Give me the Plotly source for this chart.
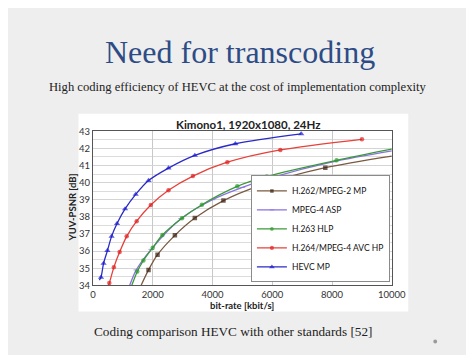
import plotly.graph_objects as go

# ---- data ----
hevc_x = [215, 269, 355, 484, 624, 806, 1075, 1430, 1860, 2527, 3409, 4763, 6968]
hevc_y = [34.3, 34.47, 35.28, 36.03, 36.86, 37.61, 38.46, 39.31, 40.12, 40.85, 41.59, 42.27, 42.85]
hevc_m = [0, 1, 1, 1, 1, 1, 1, 1, 1, 1, 1, 1, 1]

avc_x = [500, 548, 699, 892, 1129, 1462, 1935, 2527, 3344, 4495, 6269, 9000]
avc_y = [33.9, 34.13, 35.05, 35.94, 36.86, 37.75, 38.69, 39.55, 40.38, 41.19, 41.91, 42.53]
avc_m = [0, 1, 1, 1, 1, 1, 1, 1, 1, 1, 1, 1]

h263_x = [1300, 1484, 1688, 2000, 2323, 2978, 3645, 4828, 5817, 8151, 10000]
h263_y = [34.0, 34.81, 35.45, 36.2, 36.94, 37.92, 38.71, 39.78, 40.36, 41.3, 41.95]
h263_m = [0, 1, 1, 1, 1, 1, 1, 1, 1, 1, 0]

mp4_x = [1230, 1450, 1950, 2950, 4000, 5000, 6000, 8050, 10000]
mp4_y = [34.0, 34.9, 36.1, 37.9, 39.0, 39.72, 40.3, 41.22, 41.85]
mp4_m = [0, 1, 1, 1, 1, 1, 1, 1, 0]

h262_x = [1613, 1860, 2161, 2742, 3409, 4366, 5538, 7774, 10000]
h262_y = [34.0, 34.9, 35.79, 36.92, 37.93, 38.95, 39.8, 40.87, 41.55]
h262_m = [0, 1, 1, 1, 1, 1, 1, 1, 0]

names = ["H.262/MPEG-2 MP", "MPEG-4 ASP", "H.263 HLP", "H.264/MPEG-4 AVC HP", "HEVC MP"]
x_ticks = [0, 2000, 4000, 6000, 8000, 10000]
y_ticks = [34, 35, 36, 37, 38, 39, 40, 41, 42, 43]

W, H = 474, 355
def px(x): return x / W
def py(y): return 1 - y / H

series = [
    (names[0], h262_x, h262_y, h262_m, "#7a5a40", "#3a2010", "square", 4.5),
    (names[1], mp4_x, mp4_y, mp4_m, "#8a70e0", "#8a70e0", "line-ew", 4),
    (names[2], h263_x, h263_y, h263_m, "#3a9a3a", "#2a9a2a", "circle", 4.5),
    (names[3], avc_x, avc_y, avc_m, "#e8403a", "#e02020", "circle", 4.5),
    (names[4], hevc_x, hevc_y, hevc_m, "#2a2ac8", "#1a1ad0", "triangle-up", 5.5),
]

fig = go.Figure()
for name, xs, ys, ms, lc, mc, sym, sz in series:
    fig.add_trace(go.Scatter(
        x=xs, y=ys, name=name, mode="lines+markers",
        line=dict(color=lc, width=1.3, shape="spline", smoothing=0.8),
        marker=dict(symbol=sym, color=mc, size=[sz * m for m in ms],
                    line=dict(color=mc, width=1 if sym == "line-ew" else 0)),
    ))

fig.update_layout(
    width=W, height=H,
    margin=dict(l=0, r=0, t=0, b=0),
    paper_bgcolor="#eeeeee",
    plot_bgcolor="white",
    showlegend=True,
    legend=dict(
        x=px(393), y=py(277), xanchor="right", yanchor="bottom",
        bgcolor="white", bordercolor="#8a8a8a", borderwidth=1,
        font=dict(family="Lato", size=8.5, color="#111"),
        traceorder="normal", tracegroupgap=0,
        itemwidth=30,
    ),
    xaxis=dict(
        domain=[px(85), px(395)], range=[0, 10000],
        tickvals=x_ticks, ticktext=[str(v) for v in x_ticks],
        showgrid=True, gridcolor="#c8c8c8", gridwidth=1,
        showline=True, mirror=True, linecolor="#555", linewidth=1,
        zeroline=False, ticks="", ticklen=0,
        tickfont=dict(family="Lato", size=9.5, color="#333"),
    ),
    yaxis=dict(
        domain=[py(280), py(121)], range=[34, 43],
        tickvals=y_ticks, ticktext=[str(v) for v in y_ticks],
        showgrid=True, gridcolor="#d4d4d4", gridwidth=1,
        minor=dict(dtick=0.5, showgrid=True, gridcolor="#dcdcdc"),
        showline=True, mirror=True, linecolor="#555", linewidth=1,
        zeroline=False, ticks="", ticklen=0,
        tickfont=dict(family="Lato", size=9.5, color="#333"),
    ),
)

# white chart panel
fig.add_shape(type="rect", xref="paper", yref="paper",
              x0=px(70), x1=px(412), y0=py(307), y1=py(103),
              fillcolor="white", line=dict(width=0), layer="below")
# small grey dot
fig.add_shape(type="circle", xref="paper", yref="paper",
              x0=px(438), x1=px(442), y0=py(340), y1=py(336),
              fillcolor="#9a9a9a", line=dict(width=0))

def ann(text, x, y, size, color, family, bold=False, angle=0):
    fig.add_annotation(text=f"<b>{text}</b>" if bold else text,
                       xref="paper", yref="paper", x=px(x), y=py(y),
                       xanchor="center", yanchor="middle", showarrow=False,
                       textangle=angle,
                       font=dict(size=size, color=color, family=family))

ann("Need for transcoding", 237, 39, 32, "#2d4c86", "Liberation Serif")
ann("High coding efficiency of HEVC at the cost of implementation complexity",
    235, 75, 12.6, "#222", "Liberation Serif")
ann("Kimono1, 1920x1080, 24Hz", 246, 114, 11.5, "#222", "Lato", bold=True)
ann("YUV-PSNR [dB]", 64, 200, 9.5, "#222", "Lato", bold=True, angle=-90)
ann("bit-rate [kbit/s]", 240, 301, 9.5, "#222", "Lato", bold=True)
ann("Coding comparison HEVC with other standards [52]", 230, 328, 13.2,
    "#222", "Liberation Serif")

fig.write_html("out.html")
